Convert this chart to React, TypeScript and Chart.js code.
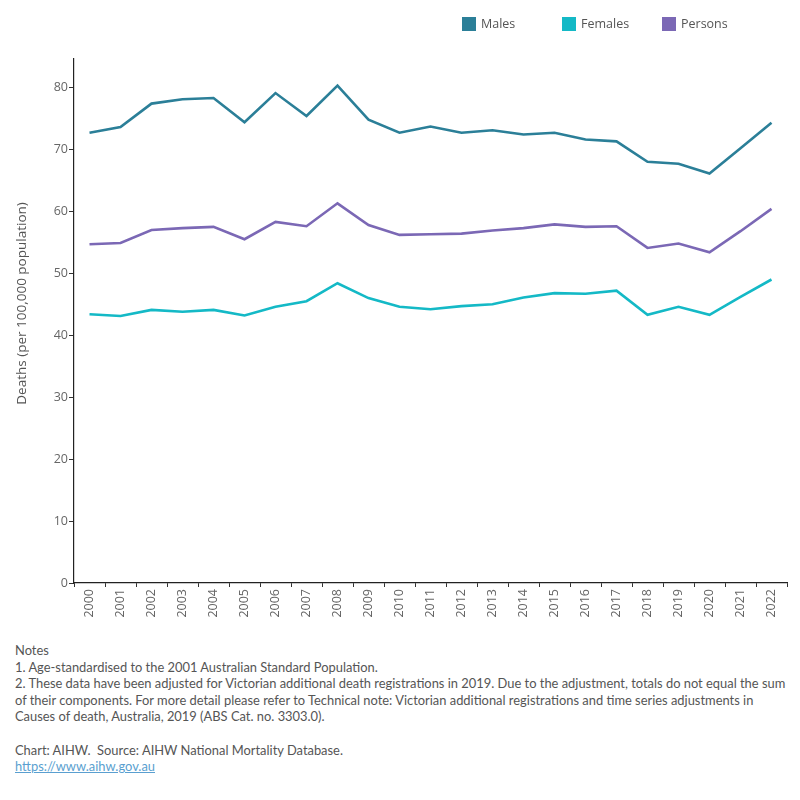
import React, { useEffect, useRef } from "react";
import { Chart, registerables } from "chart.js";

Chart.register(...registerables);

const years = ["2000","2001","2002","2003","2004","2005","2006","2007","2008","2009","2010","2011","2012","2013","2014","2015","2016","2017","2018","2019","2020","2021","2022"];
const males = [72.7,73.6,77.4,78.1,78.3,74.4,79.1,75.4,80.3,74.8,72.7,73.7,72.7,73.1,72.4,72.7,71.6,71.3,68.0,67.7,66.1,70.2,74.3];
const females = [43.4,43.1,44.1,43.8,44.1,43.2,44.6,45.5,48.4,46.0,44.6,44.2,44.7,45.0,46.1,46.8,46.7,47.2,43.3,44.6,43.3,46.2,49.0];
const persons = [54.7,54.9,57.0,57.3,57.5,55.5,58.3,57.6,61.3,57.8,56.2,56.3,56.4,56.9,57.3,57.9,57.5,57.6,54.1,54.8,53.4,56.8,60.4];
const yTicks = [0,10,20,30,40,50,60,70,80];

const seriesNames = ["Males","Females","Persons"];
const seriesColors = ["#2b7f98","#14b9c6","#7b68b5"];
const yTitle = "Deaths (per 100,000 population)";

const FONT = "'Open Sans', sans-serif";

export default function App() {
  const ref = useRef<HTMLCanvasElement | null>(null);
  useEffect(() => {
    if (!ref.current) return;
    const chart = new Chart(ref.current, {
      type: "line",
      data: {
        labels: years,
        datasets: [males, females, persons].map((d, i) => ({
          label: seriesNames[i],
          data: d,
          borderColor: seriesColors[i],
          backgroundColor: seriesColors[i],
          borderWidth: 2.6,
          pointRadius: 0,
          tension: 0,
        })),
      },
      options: {
        animation: false,
        responsive: false,
        maintainAspectRatio: false,
        layout: { padding: { top: 59, right: 13, left: 0, bottom: 0 } },
        plugins: { legend: { display: false }, tooltip: { enabled: false } },
        scales: {
          x: {
            type: "category",
            offset: true,
            grid: {
              display: true,
              drawOnChartArea: false,
              drawTicks: true,
              tickLength: 4,
              offset: true,
              color: "#333",
            },
            border: { display: true, color: "#222", width: 1.2 },
            ticks: {
              color: "#666",
              font: { family: FONT, size: 12.5 },
              minRotation: 90,
              maxRotation: 90,
              padding: 2,
              autoSkip: false,
            },
            afterFit: (s: any) => { s.height = 57; },
          },
          y: {
            min: 0,
            max: 84.6,
            afterBuildTicks: (s: any) => {
              s.ticks = yTicks.map((v) => ({ value: v }));
            },
            grid: {
              display: true,
              drawOnChartArea: false,
              drawTicks: true,
              tickLength: 5,
              color: "#333",
            },
            border: { display: true, color: "#222", width: 1.2 },
            ticks: {
              color: "#666",
              font: { family: FONT, size: 12.5 },
              padding: 1,
            },
            title: {
              display: true,
              text: "\u00a0".repeat(10) + yTitle,
              color: "#555",
              font: { family: FONT, size: 13.5 },
              padding: { top: 14, bottom: 0 },
            },
            afterFit: (s: any) => { s.width = 74; },
          },
        },
      },
    });
    return () => chart.destroy();
  }, []);

  const noteStyle: React.CSSProperties = {
    position: "absolute",
    left: 15,
    top: 642,
    fontFamily: "Lato, sans-serif",
    fontSize: 12.9,
    lineHeight: "16.6px",
    color: "#555",
    whiteSpace: "nowrap",
  };

  return (
    <div style={{ position: "absolute", left: 0, top: 0, width: 800, height: 800, background: "#fff" }}>
      <canvas ref={ref} width={800} height={640} style={{ position: "absolute", left: 0, top: 0, width: 800, height: 640 }} />
      {seriesNames.map((n, i) => (
        <div key={n} style={{ position: "absolute", left: 462 + i * 100, top: 15, display: "flex", alignItems: "center", fontFamily: FONT, fontSize: 12.5, color: "#555" }}>
          <span style={{ display: "inline-block", width: 14, height: 14, background: seriesColors[i], marginRight: 5 }} />
          <span>{n}</span>
        </div>
      ))}
      <div style={noteStyle}>
        Notes<br />
        1. Age-standardised to the 2001 Australian Standard Population.<br />
        2. These data have been adjusted for Victorian additional death registrations in 2019. Due to the adjustment, totals do not equal the sum<br />
        of their components. For more detail please refer to Technical note: Victorian additional registrations and time series adjustments in<br />
        Causes of death, Australia, 2019 (ABS Cat. no. 3303.0).<br />
        <br />
        Chart: AIHW.&nbsp; Source: AIHW National Mortality Database.<br />
        <span style={{ color: "#5a9fd0", textDecoration: "underline" }}>https://www.aihw.gov.au</span>
      </div>
    </div>
  );
}
